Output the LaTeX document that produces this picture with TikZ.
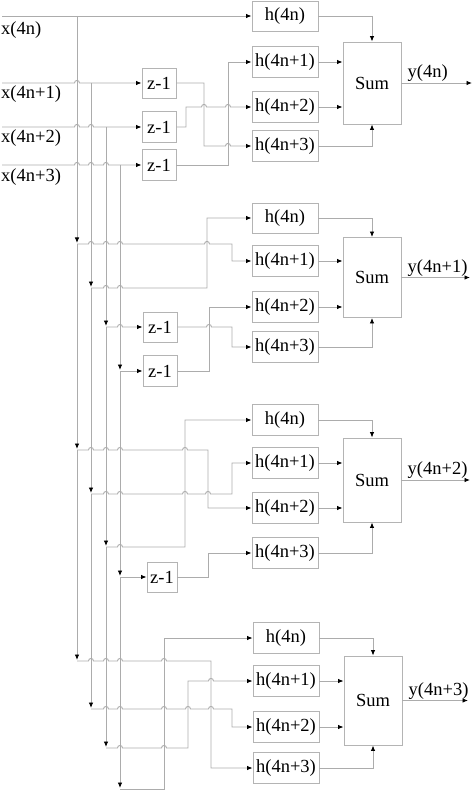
\documentclass[tikz,border=0pt]{standalone}
\usepackage{fontspec}
\setmainfont{Liberation Serif}
\usetikzlibrary{arrows.meta}
\definecolor{wirec}{RGB}{172,172,172}
\definecolor{boxc}{RGB}{180,180,180}
\begin{document}
\begin{tikzpicture}[x=1pt,y=-1pt,
  wire/.style={draw=wirec,line width=0.9pt},
  arr/.style={-{Latex[length=5.5pt,width=4.5pt,color=black]}},
  blk/.style={draw=boxc,line width=0.9pt,inner sep=0pt,minimum height=30pt,
    font=\fontsize{18.5}{20}\selectfont},
  zbox/.style={blk,minimum width=34pt},
  hbox/.style={blk,minimum width=66pt},
  sumbox/.style={blk,minimum width=58pt},
  lbl/.style={inner sep=0pt,font=\fontsize{18.5}{20}\selectfont},
  hopover/.style args={#1/#2}{insert path={-- ({#1-2.5},#2) .. controls ({#1-2.5},{#2-3.4}) and ({#1+2.5},{#2-3.4}) .. ({#1+2.5},#2)}}
]
\useasboundingbox (0,0) rectangle (474,791);

% ---------- inputs and the four vertical buses ----------
\coordinate (i0) at (2,16);
\coordinate (i1) at (2,83);
\coordinate (i2) at (2,127);
\coordinate (i3) at (2,165);
\node[lbl,anchor=west] (li0) at (1,30) {x(4n)};
\node[lbl,anchor=west] (li1) at (1,94) {x(4n+1)};
\node[lbl,anchor=west] (li2) at (1,138) {x(4n+2)};
\node[lbl,anchor=west] (li3) at (1,177) {x(4n+3)};

\coordinate (b0s) at (77,16);
\coordinate (b1s) at (91,83);
\coordinate (b2s) at (106,127);
\coordinate (b3s) at (120,165);
% taps feeding the lower three stages
\coordinate (b0t1) at (77,244);  \coordinate (b1t1) at (91,288);
\coordinate (b2t1) at (106,327); \coordinate (b3t1) at (120,371);
\coordinate (b0t2) at (77,450);  \coordinate (b1t2) at (91,494);
\coordinate (b2t2) at (106,547); \coordinate (b3t2) at (120,577);
\coordinate (b0t3) at (77,661);  \coordinate (b1t3) at (91,709);
\coordinate (b2t3) at (106,748); \coordinate (b3t3) at (120,789);

\draw[wire,arr,shorten >=1pt] (b0s) -- (b0t1);
\draw[wire,arr,shorten >=1pt] (b0t1) -- (b0t2);
\draw[wire,arr,shorten >=1pt] (b0t2) -- (b0t3);
\draw[wire,arr,shorten >=1pt] (b1s) -- (b1t1);
\draw[wire,arr,shorten >=1pt] (b1t1) -- (b1t2);
\draw[wire,arr,shorten >=1pt] (b1t2) -- (b1t3);
\draw[wire,arr,shorten >=1pt] (b2s) -- (b2t1);
\draw[wire,arr,shorten >=1pt] (b2t1) -- (b2t2);
\draw[wire,arr,shorten >=1pt] (b2t2) -- (b2t3);
\draw[wire,arr,shorten >=1pt] (b3s) -- (b3t1);
\draw[wire,arr,shorten >=1pt] (b3t1) -- (b3t2);
\draw[wire,arr,shorten >=1pt] (b3t2) -- (b3t3);

% ---------- stage y(4n) ----------
\node[zbox] (z1a) at (159,83) {z-1};
\node[zbox,minimum height=31pt] (z1b) at (159,127) {z-1};
\node[zbox,minimum height=31pt] (z1c) at (159,165) {z-1};
\node[hbox] (h1a) at (285,16) {h(4n)};
\node[hbox,minimum height=31pt] (h1b) at (285,62) {h(4n+1)};
\node[hbox,minimum height=31pt] (h1c) at (285,107) {h(4n+2)};
\node[hbox,minimum height=31pt] (h1d) at (285,146) {h(4n+3)};
\node[sumbox,minimum height=82pt] (s1) at (372,83) {Sum};
\coordinate (o1) at (472,83);

\draw[wire,arr] (i0) -- (h1a.west);
\draw[wire,arr] (i1) [hopover=77/83] -- (z1a.west);
\draw[wire,arr] (i2) [hopover=77/127] [hopover=91/127] -- (z1b.west);
\draw[wire,arr] (i3) [hopover=77/165] [hopover=91/165] [hopover=106/165] -- (z1c.west);
\draw[wire,arr] (z1a.east) -- (204,83) -- (204,146) [hopover=228/146] -- (h1d.west);
\draw[wire,arr] (z1b.east) -- (186,127) -- (186,107) [hopover=204/107] [hopover=228/107] -- (h1c.west);
\draw[wire,arr] (z1c.east) -- (228,165) |- (h1b.west);
\draw[wire,arr] (h1a.east) -| (s1.north);
\draw[wire,arr] (h1b.east) -- (h1b.east -| s1.west);
\draw[wire,arr] (h1c.east) -- (h1c.east -| s1.west);
\draw[wire,arr] (h1d.east) -| (s1.south);
\draw[wire,arr] (s1.east) -- (o1);
\node[lbl,anchor=south west] (lo1) at ([xshift=6pt,yshift=1pt]s1.east) {y(4n)};

% ---------- stage y(4n+1) ----------
\node[zbox] (z2a) at (160,327) {z-1};
\node[zbox,minimum height=31pt] (z2b) at (160,371) {z-1};
\node[hbox] (h2a) at (285,218) {h(4n)};
\node[hbox,minimum height=31pt] (h2b) at (285,261) {h(4n+1)};
\node[hbox,minimum height=31pt] (h2c) at (285,307) {h(4n+2)};
\node[hbox,minimum height=31pt] (h2d) at (285,347) {h(4n+3)};
\node[sumbox,minimum height=80pt] (s2) at (372,277.5) {Sum};
\coordinate (o2) at (470,277.5);

\draw[wire,arr] (b0t1) [hopover=91/244] [hopover=106/244] [hopover=120/244] [hopover=207/244] -- (232,244) |- (h2b.west);
\draw[wire,arr] (b1t1) [hopover=106/288] [hopover=120/288] -- (207,288) |- (h2a.west);
\draw[wire,arr] (b2t1) [hopover=120/327] -- (z2a.west);
\draw[wire,arr] (z2a.east) [hopover=209/327] -- (232,327) |- (h2d.west);
\draw[wire,arr] (b3t1) -- (z2b.west);
\draw[wire,arr] (z2b.east) -- (209,371) |- (h2c.west);
\draw[wire,arr] (h2a.east) -| (s2.north);
\draw[wire,arr] (h2b.east) -- (h2b.east -| s2.west);
\draw[wire,arr] (h2c.east) -- (h2c.east -| s2.west);
\draw[wire,arr] (h2d.east) -| (s2.south);
\draw[wire,arr] (s2.east) -- (o2);
\node[lbl,anchor=south west] (lo2) at ([xshift=6pt,yshift=1pt]s2.east) {y(4n+1)};

% ---------- stage y(4n+2) ----------
\node[zbox,minimum width=30pt] (z3) at (162,577) {z-1};
\node[hbox,minimum height=31pt] (h3a) at (285,420) {h(4n)};
\node[hbox,minimum height=31pt] (h3b) at (285,463) {h(4n+1)};
\node[hbox,minimum height=31pt] (h3c) at (285,508) {h(4n+2)};
\node[hbox,minimum height=31pt] (h3d) at (285,553) {h(4n+3)};
\node[sumbox,minimum height=84pt] (s3) at (372,480) {Sum};
\coordinate (o3) at (470,480);

\draw[wire,arr] (b0t2) [hopover=91/450] [hopover=106/450] [hopover=120/450] [hopover=185/450] -- (208,450) |- (h3c.west);
\draw[wire,arr] (b1t2) [hopover=106/494] [hopover=120/494] [hopover=185/494] [hopover=208/494] -- (232,494) |- (h3b.west);
\draw[wire,arr] (b2t2) [hopover=120/547] -- (185,547) |- (h3a.west);
\draw[wire,arr] (b3t2) -- (z3.west);
\draw[wire,arr] (z3.east) -- (208,577) |- (h3d.west);
\draw[wire,arr] (h3a.east) -| (s3.north);
\draw[wire,arr] (h3b.east) -- (h3b.east -| s3.west);
\draw[wire,arr] (h3c.east) -- (h3c.east -| s3.west);
\draw[wire,arr] (h3d.east) -| (s3.south);
\draw[wire,arr] (s3.east) -- (o3);
\node[lbl,anchor=south west] (lo3) at ([xshift=6pt,yshift=1pt]s3.east) {y(4n+2)};

% ---------- stage y(4n+3) ----------
\node[hbox,minimum height=31pt] (h4a) at (286,638) {h(4n)};
\node[hbox,minimum height=31pt] (h4b) at (286,681) {h(4n+1)};
\node[hbox,minimum height=31pt] (h4c) at (286,727) {h(4n+2)};
\node[hbox,minimum height=31pt] (h4d) at (286,768) {h(4n+3)};
\node[sumbox,minimum height=89pt] (s4) at (373,700.5) {Sum};
\coordinate (o4) at (468,700.5);

\draw[wire,arr] (b0t3) [hopover=91/661] [hopover=106/661] [hopover=120/661] [hopover=164/661] -- (211,661) |- (h4d.west);
\draw[wire,arr] (b1t3) [hopover=106/709] [hopover=120/709] [hopover=164/709] [hopover=188/709] [hopover=211/709] -- (232,709) |- (h4c.west);
\draw[wire,arr] (b2t3) [hopover=120/748] [hopover=164/748] -- (188,748) -- (188,681) [hopover=211/681] -- (h4b.west);
\draw[wire,arr] (b3t3) -- (164,789) |- (h4a.west);
\draw[wire,arr] (h4a.east) -| (s4.north);
\draw[wire,arr] (h4b.east) -- (h4b.east -| s4.west);
\draw[wire,arr] (h4c.east) -- (h4c.east -| s4.west);
\draw[wire,arr] (h4d.east) -| (s4.south);
\draw[wire,arr] (s4.east) -- (o4);
\node[lbl,anchor=south west] (lo4) at ([xshift=6pt,yshift=1pt]s4.east) {y(4n+3)};
\end{tikzpicture}
\end{document}
